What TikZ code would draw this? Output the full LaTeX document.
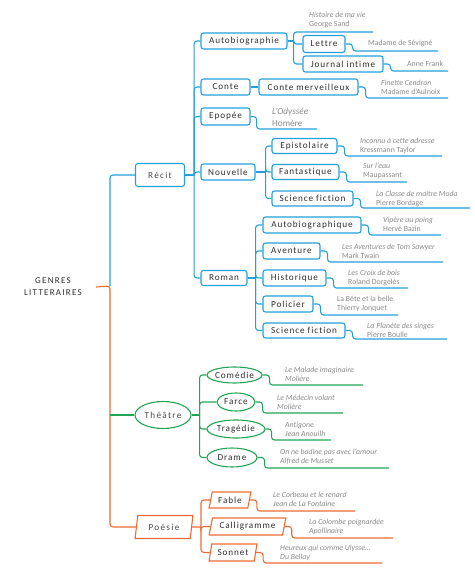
\documentclass[tikz,border=0pt]{standalone}
\usepackage{fontspec}
\setmainfont{Carlito}[Ligatures={NoCommon}]
\newfontfamily\nf[LetterSpace=10,Ligatures={NoCommon}]{Carlito}
\newfontfamily\nfw[LetterSpace=14,Ligatures={NoCommon}]{Carlito}
\usetikzlibrary{shapes.geometric,calc}
\definecolor{cb}{HTML}{22A0DC}
\definecolor{cg}{HTML}{22A455}
\definecolor{co}{HTML}{EE6A33}
\definecolor{tx}{HTML}{2E2E2E}
\definecolor{tx1}{HTML}{4A4A4A}
\definecolor{lf}{HTML}{8A8A8A}
\newcommand\leaffont{\fontsize{7.8}{9}\selectfont}
\newcommand\bigleaffont{\fontsize{9.2}{12}\selectfont}
\begin{document}
\begin{tikzpicture}[x=1pt,y=-1pt,
  lab/.style={font=\nf\fontsize{9.2}{10}\selectfont, text=tx, inner sep=0pt, line width=1.1pt},
  l1/.style={font=\nfw\fontsize{9.2}{10}\selectfont, text=tx1},
  rbox/.style={lab, draw=cb, rectangle, rounded corners=2.5pt, minimum height=16},
  ebox/.style={lab, draw=cg, ellipse, minimum height=17},
  pbox/.style={lab, draw=co, trapezium, trapezium left angle=72, trapezium right angle=108, trapezium stretches=true, minimum height=16},
  be/.style={draw=cb, line width=1.1pt, rounded corners=3pt},
  ge/.style={draw=cg, line width=1.1pt, rounded corners=3pt},
  oe/.style={draw=co, line width=1.1pt, rounded corners=3pt},
  leaf/.style={anchor=west, align=left, inner sep=0pt, font=\leaffont, text=lf},
]
\useasboundingbox (0,0) rectangle (474,573);

% root
\node[font=\nfw\fontsize{9}{12}\selectfont, text=tx, align=center, minimum width=86, inner sep=0pt] (root) at (53,287) {GENRES\\LITTERAIRES};
\coordinate (rj) at (110,286);

% level 1
\node[rbox, l1, minimum width=49, minimum height=23] (recit) at (160,175) {Récit};
\node[ebox, l1, minimum width=56, minimum height=27] (theatre) at (163,415) {Théâtre};
\node[pbox, l1, minimum width=58, minimum height=23, trapezium left angle=76, trapezium right angle=104] (poesie) at (164,527) {Poésie};

% level 2 Récit
\node[rbox, minimum width=86] (autobio) at (244,41) {Autobiographie};
\node[rbox, minimum width=42, minimum height=17] (lettre) at (324,44) {Lettre};
\node[rbox, minimum width=80] (journal) at (343,64) {Journal intime};
\node[rbox, minimum width=49] (conte) at (225.5,87) {Conte};
\node[rbox, minimum width=99] (contem) at (308.5,87) {Conte merveilleux};
\node[rbox, minimum width=49, minimum height=17] (epopee) at (225.5,116.5) {Epopée};
\node[rbox, minimum width=54] (nouvelle) at (228,172) {Nouvelle};
\node[rbox, minimum width=65, minimum height=15] (epist) at (304.5,146) {Epistolaire};
\node[rbox, minimum width=67, minimum height=15] (fantas) at (305.5,172) {Fantastique};
\node[rbox, minimum width=81, minimum height=15] (scifia) at (312.5,198.5) {Science fiction};
\node[rbox, minimum width=46, minimum height=15] (roman) at (224,278) {Roman};
\node[rbox, minimum width=98] (autobiq) at (312,225) {Autobiographique};
\node[rbox, minimum width=57] (aventure) at (291.5,251) {Aventure};
\node[rbox, minimum width=63] (histo) at (294.5,278) {Historique};
\node[rbox, minimum width=50] (polic) at (288,304) {Policier};
\node[rbox, minimum width=82, minimum height=15] (scifib) at (304,330.5) {Science fiction};

% level 2 Théâtre
\node[ebox, minimum width=55, minimum height=16] (comedie) at (234.5,375) {Comédie};
\node[ebox, minimum width=38, minimum height=18] (farce) at (236,402) {Farce};
\node[ebox, minimum width=58, minimum height=18] (tragedie) at (236,429) {Tragédie};
\node[ebox, minimum width=50, minimum height=19] (drame) at (232,457.5) {Drame};

% level 2 Poésie
\node[pbox, minimum width=42] (fable) at (230,500) {Fable};
\node[pbox, minimum width=77, minimum height=17] (calli) at (247.5,526.5) {Calligramme};
\node[pbox, minimum width=48, minimum height=17] (sonnet) at (233,552.5) {Sonnet};

% root connectors
\draw[oe] (root.east) -- (rj) |- (poesie.west);
\draw[be] (rj) |- (recit.west);
\draw[ge] (rj |- theatre.west) -- (theatre.west);

% Récit branch
\coordinate (rv) at ($(recit.east)+(9,0)$);
\draw[be] (recit.east) -- (rv);
\foreach \c in {autobio,conte,epopee,nouvelle,roman} \draw[be] (rv) |- (\c.west);
% Autobiographie branch
\coordinate (av) at ($(autobio.east)+(6,0)$);
\coordinate (e0) at (373,32);
\draw[be] (autobio.east) -- (av);
\draw[be] (av) |- (e0);
\draw[be] (av) |- (lettre.west);
\draw[be] (av) |- (journal.west);
\draw[be] (conte.east) -- (contem.west);
% Nouvelle branch
\coordinate (nv) at ($(nouvelle.east)+(10,0)$);
\draw[be] (nouvelle.east) -- (nv);
\foreach \c in {epist,fantas,scifia} \draw[be] (nv) |- (\c.west);
% Roman branch
\coordinate (mv) at ($(roman.east)+(8,0)$);
\draw[be] (roman.east) -- (mv);
\foreach \c in {autobiq,aventure,histo,polic,scifib} \draw[be] (mv) |- (\c.west);
% Théâtre branch
\coordinate (tv) at ($(theatre.east)+(8,0)$);
\draw[ge] (theatre.east) -- (tv);
\foreach \c in {comedie,farce,tragedie,drame} \draw[ge] (tv) |- (\c.west);
% Poésie branch
\coordinate (pv) at (201,527);
\draw[oe] (poesie.east) -- (pv);
\foreach \c in {fable,calli,sonnet} \draw[oe] (pv) |- (\c.west);

% leaf underline ends
\coordinate (e1) at (438,51);
\coordinate (e2) at (448,71);
\coordinate (e3) at (448,98);
\coordinate (e4) at (317,129);
\coordinate (e5) at (442,156);
\coordinate (e6) at (407,182);
\coordinate (e7) at (470,208);
\coordinate (e8) at (441,235);
\coordinate (e9) at (443,262);
\coordinate (e10) at (408,288);
\coordinate (e11) at (398,315);
\coordinate (e12) at (447,339);
\coordinate (e13) at (363,385);
\coordinate (e14) at (343,413);
\coordinate (e15) at (331,440);
\coordinate (e16) at (389,468);
\coordinate (e17) at (355,511);
\coordinate (e18) at (393,538);
\coordinate (e19) at (382,563);

\draw[be] (lettre.east) -- ++(7,0) |- (e1);
\draw[be] (journal.east) -- ++(7,0) |- (e2);
\draw[be] (contem.east) -- ++(7,0) |- (e3);
\draw[be] (epopee.east) -- ++(6,0) |- (e4);
\draw[be] (epist.east) -- ++(7,0) |- (e5);
\draw[be] (fantas.east) -- ++(7,0) |- (e6);
\draw[be] (scifia.east) -- ++(7,0) |- (e7);
\draw[be] (autobiq.east) -- ++(7,0) |- (e8);
\draw[be] (aventure.east) -- ++(7,0) |- (e9);
\draw[be] (histo.east) -- ++(7,0) |- (e10);
\draw[be] (polic.east) -- ++(7,0) |- (e11);
\draw[be] (scifib.east) -- ++(7,0) |- (e12);
\draw[ge] (comedie.east) -- ++(7,0) |- (e13);
\draw[ge] (farce.east) -- ++(7,0) |- (e14);
\draw[ge] (tragedie.east) -- ++(6,0) |- (e15);
\draw[ge] (drame.east) -- ++(7,0) |- (e16);
\draw[oe] (fable.east) -- ++(7,0) |- (e17);
\draw[oe] (calli.east) -- ++(7,0) |- (e18);
\draw[oe] (sonnet.east) -- ++(7,0) |- (e19);

% leaf texts
\node[leaf] (t0) at (309,19.5) {\textit{Histoire de ma vie}\\George Sand};
\node[leaf] (t1) at (368,43) {Madame de Sévigné};
\node[leaf] (t2) at (407,64) {Anne Frank};
\node[leaf] (t3) at (381,87.5) {\textit{Finette Cendron}\\Madame d'Aulnoix};
\node[leaf, font=\bigleaffont] (t4) at (272,117) {\textit{L'Odyssée}\\Homère};
\node[leaf] (t5) at (360,145.5) {\textit{Inconnu à cette adresse}\\Kressmann Taylor};
\node[leaf] (t6) at (363,171) {\textit{Sur l'eau}\\Maupassant};
\node[leaf] (t7) at (376,198.5) {\textit{La Classe de maître Moda}\\Pierre Bordage};
\node[leaf] (t8) at (383,224.5) {\textit{Vipère au poing}\\Hervé Bazin};
\node[leaf] (t9) at (342,251.5) {\textit{Les Aventures de Tom Sawyer}\\Mark Twain};
\node[leaf] (t10) at (348,277.5) {\textit{Les Croix de bois}\\Roland Dorgelès};
\node[leaf] (t11) at (337,304) {La Bête et la belle\\Thierry Jonquet};
\node[leaf] (t12) at (367,330.5) {\textit{La Planète des singes}\\Pierre Boulle};
\node[leaf, font=\leaffont\itshape] (t13) at (285,374.5) {Le Malade imaginaire\\Molière};
\node[leaf, font=\leaffont\itshape] (t14) at (277,402) {Le Médecin volant\\Molière};
\node[leaf, font=\leaffont\itshape] (t15) at (285,429.5) {Antigone\\Jean Anouilh};
\node[leaf, font=\leaffont\itshape] (t16) at (280,456.5) {On ne badine pas avec l'amour\\Alfred de Musset};
\node[leaf, font=\leaffont\itshape] (t17) at (273,499.5) {Le Corbeau et le renard\\Jean de La Fontaine};
\node[leaf, font=\leaffont\itshape] (t18) at (309,526.5) {La Colombe poignardée\\Apollinaire};
\node[leaf, font=\leaffont\itshape] (t19) at (280,553) {Heureux qui comme Ulysse...\\Du Bellay};
\end{tikzpicture}
\end{document}
